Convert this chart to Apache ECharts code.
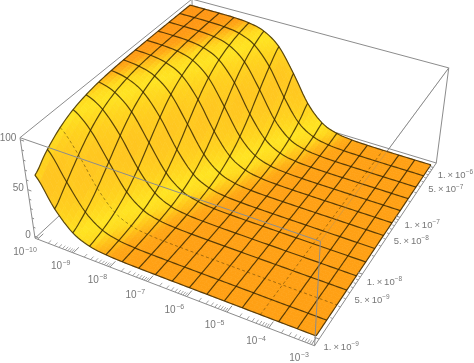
<!DOCTYPE html>
<html><head><meta charset="utf-8">
<style>html,body{margin:0;padding:0;background:#fff}#c{width:474px;height:363px}</style>
<script src="https://cdn.jsdelivr.net/npm/echarts@6/dist/echarts.min.js"></script>
</head><body><div id="c"></div>
<script>
// surface height (0-100), rows run front (1e-9) to back (1e-6); columns run 1e-10 to 1e-3
const row00=[60.5,31.4,12,3.9,1.2,.36,.11,.03,0,0,0,0,0,0,0,0,0];
const row01=[72,43.5,18.7,6.4,2,.6,.18,.05,0,0,0,0,0,0,0,0,0];
const row02=[81.2,56.4,27.8,10.3,3.3,1,.3,.09,0,0,0,0,0,0,0,0,0];
const row03=[87.9,68.4,39.3,16.2,5.5,1.7,.5,.15,.05,0,0,0,0,0,0,0,0];
const row04=[92.4,78.4,52.1,24.5,8.8,2.8,.86,.26,.08,0,0,0,0,0,0,0,0];
const row05=[95.3,85.9,64.6,35.2,14,4.6,1.4,.43,.13,.04,0,0,0,0,0,0,0];
const row06=[97.2,91.1,75.4,47.8,21.4,7.5,2.4,.72,.22,.07,0,0,0,0,0,0,0];
const row07=[98.3,94.5,83.7,60.5,31.4,12,3.9,1.2,.36,.11,.03,0,0,0,0,0,0];
const row08=[99,96.7,89.6,72,43.5,18.7,6.4,2,.6,.18,.05,0,0,0,0,0,0];
const row09=[99.4,98,93.5,81.2,56.4,27.8,10.3,3.3,1,.3,.09,0,0,0,0,0,0];
const row10=[99.6,98.8,96,87.9,68.4,39.3,16.2,5.5,1.7,.5,.15,.05,0,0,0,0,0];
const row11=[99.8,99.3,97.6,92.4,78.4,52.1,24.5,8.8,2.8,.86,.26,.08,0,0,0,0,0];
const row12=[99.9,99.6,98.6,95.3,85.9,64.6,35.2,14,4.6,1.4,.43,.13,.04,0,0,0,0];
const row13=[99.9,99.7,99.1,97.2,91.1,75.4,47.8,21.4,7.5,2.4,.72,.22,.07,0,0,0,0];
const row14=[100,99.8,99.5,98.3,94.5,83.7,60.5,31.4,12,3.9,1.2,.36,.11,.03,0,0,0];
const row15=[100,99.9,99.7,99,96.7,89.6,72,43.5,18.7,6.4,2,.6,.18,.05,0,0,0];
const row16=[100,99.9,99.8,99.4,98,93.5,81.2,56.4,27.8,10.3,3.3,1,.3,.09,0,0,0];
const zTable=[row00,row01,row02,row03,row04,row05,row06,row07,row08,row09,row10,row11,row12,row13,row14,row15,row16];

const xExponents=[-10,-9,-8,-7,-6,-5,-4,-3];
const yTickValues=[[1,-9],[5,-9],[1,-8],[5,-8],[1,-7],[5,-7],[1,-6]];
const zTicks=[0,50,100];

// camera: box corners as seen in the picture, [U,V,W, px,py]
const cam=[[0,0,0,35,238],[1,0,0,315,346],[1,1,0,436,163],[0,0,1,20,138],[1,0,1,320,241],[1,1,1,449,68],[0,1,1,192,-1]];
const padU=.01,padV=.03,padW=.02,NX=16,NY=16;
const meshCellsX=16,meshCellsY=13,faintX=13,faintY=2;

function solve(A,b){const n=b.length;for(let i=0;i<n;i++){let p=i;for(let r=i+1;r<n;r++)if(Math.abs(A[r][i])>Math.abs(A[p][i]))p=r;
 [A[i],A[p]]=[A[p],A[i]];[b[i],b[p]]=[b[p],b[i]];
 for(let r=i+1;r<n;r++){const f=A[r][i]/A[i][i];for(let c=i;c<n;c++)A[r][c]-=f*A[i][c];b[r]-=f*b[i];}}
 const x=Array(n).fill(0);for(let i=n-1;i>=0;i--){let s=b[i];for(let c=i+1;c<n;c++)s-=A[i][c]*x[c];x[i]=s/A[i][i];}return x;}
const M=(function(){const R=[],B=[];cam.forEach(([u,v,w,x,y])=>{
 R.push([u,v,w,1,0,0,0,0,-x*u,-x*v,-x*w]);B.push(x);R.push([0,0,0,0,u,v,w,1,-y*u,-y*v,-y*w]);B.push(y);});
 const N=Array.from({length:11},(_,a)=>Array.from({length:11},(_,b)=>R.reduce((s,r)=>s+r[a]*r[b],0)));
 const T=Array.from({length:11},(_,a)=>R.reduce((s,r,k)=>s+r[a]*B[k],0));return solve(N,T);})();
function proj(U,V,W){const d=M[8]*U+M[9]*V+M[10]*W+1;return [(M[0]*U+M[1]*V+M[2]*W+M[3])/d,(M[4]*U+M[5]*V+M[6]*W+M[7])/d];}

function cr(a,b,c,d,t){return .5*(2*b+(c-a)*t+(2*a-5*b+4*c-d)*t*t+(3*b-a-3*c+d)*t*t*t);}
function at(j,i){return zTable[Math.max(0,Math.min(NY,j))][Math.max(0,Math.min(NX,i))];}
function height(fi,fj){fi=Math.max(0,Math.min(NX,fi));fj=Math.max(0,Math.min(NY,fj));
 const i=Math.min(NX-1,Math.floor(fi)),j=Math.min(NY-1,Math.floor(fj)),s=fi-i,t=fj-j,q=[];
 for(let k=-1;k<3;k++)q.push(cr(at(j+k,i-1),at(j+k,i),at(j+k,i+1),at(j+k,i+2),s));
 return cr(q[0],q[1],q[2],q[3],t);}
function surf(fi,fj){const z=Math.max(0,Math.min(100,height(fi,fj)));
 return proj(padU+(1-2*padU)*fi/NX,padV+(1-2*padV)*fj/NY,padW+(1-2*padW)*z/100);}

const shade=[[0,[255,160,20]],[.18,[255,166,20]],[.5,[255,192,25]],[1,[255,218,30]],[2,[255,228,34]],[3.6,[255,212,30]],[5.4,[255,198,32]]];
function color(fi,fj){const e=.12,zu=(height(fi+e,fj)-height(fi-e,fj))/(2*e)*NX/100,zv=(height(fi,fj+e)-height(fi,fj-e))/(2*e)*NY/100,m=Math.hypot(zu,zv);
 let k=0;while(k<shade.length-2&&m>shade[k+1][0])k++;const a=shade[k],b=shade[k+1],t=Math.min(1,(m-a[0])/(b[0]-a[0]));
 const high=Math.max(0,height(fi,fj)-90)/10*Math.max(0,1-m/.6);
 const rgb=a[1].map((v,c)=>Math.round(v+(b[1][c]-v)*t));rgb[1]-=Math.round(10*high);
 return 'rgb('+rgb.join(',')+')';}

const cells=[];for(let j=NY-1;j>=0;j--)for(let i=0;i<NX;i++)cells.push([i,j]);
const SUB=4;
function renderCell(p,api){const i=api.value(0),j=api.value(1),ch=[];
 for(let b=SUB-1;b>=0;b--)for(let a=0;a<SUB;a++){
  const fi=i+a/SUB,fj=j+b/SUB,d=1/SUB,col=color(fi+d/2,fj+d/2);
  const pts=[[fi,fj],[fi+d,fj],[fi+d,fj+d],[fi,fj+d]].map(q=>api.coord(surf(q[0],q[1])));
  ch.push({type:'polygon',shape:{points:pts},style:{fill:col,stroke:col,lineWidth:.7}});}
 return {type:'group',children:ch};}

const meshLines=[];
for(let k=0;k<=meshCellsX;k++)meshLines.push([0,k]);
for(let k=0;k<=meshCellsY;k++)meshLines.push([1,k]);
function renderMesh(p,api){const ax=api.value(0),k=api.value(1),pts=[];
 const faint=(ax===0&&k===faintX)||(ax===1&&k===faintY);
 for(let t=0;t<=16*6;t++){const f=t/6;pts.push(api.coord(ax===0?surf(k*NX/meshCellsX,f):surf(f,k*NY/meshCellsY)));}
 return {type:'polyline',shape:{points:pts},style:faint
  ?{fill:'none',stroke:'rgba(50,35,0,.45)',lineWidth:1,lineDash:[3,2.5]}
  :{fill:'none',stroke:'rgba(50,35,0,.8)',lineWidth:1.2}};}

const CORN={A:[0,0,0],B:[1,0,0],C:[1,1,0],D:[0,1,0],E:[0,0,1],F:[1,0,1],G:[1,1,1],H:[0,1,1]};
const backEdges=['AD','DH','EH','HG','GC','DC','FG'],frontEdges=['EF','FB','AE','AB','BC'];
function edgeEl(api,s,op){const a=CORN[s[0]],b=CORN[s[1]];
 return {type:'line',shape:(function(){const P=api.coord(proj(...a)),Q=api.coord(proj(...b));return{x1:P[0],y1:P[1],x2:Q[0],y2:Q[1]};})(),style:{stroke:'#8c8c8c',lineWidth:1,opacity:op}};}
function tickEl(api,a,b,w){const P=api.coord(proj(...a)),Q=api.coord(proj(...b));
 return {type:'line',shape:{x1:P[0],y1:P[1],x2:Q[0],y2:Q[1]},style:{stroke:'#8c8c8c',lineWidth:w}};}
const GR='#777777';
const rich={b:{fontFamily:'Liberation Sans',fontSize:10,fill:GR},s:{fontFamily:'Liberation Sans',fontSize:7,fill:GR,padding:[0,0,6,0.5]},
 c:{fontFamily:'Liberation Sans',fontSize:9.5,fill:GR},t:{fontFamily:'Liberation Sans',fontSize:6.5,fill:GR,padding:[0,0,6,0]}};
function label(api,px,py,dx,dy,text,align){const c=api.coord([px+dx,py+dy]);
 return {type:'text',style:{x:c[0],y:c[1],text:text,rich:rich,align:align||'center',verticalAlign:'middle'}};}

function renderAxes(p,api){const ch=[];
 for(let e=-10;e<-3;e++)for(let m=1;m<10;m++){const f=(e+Math.log10(m)+10)/7,U=padU+(1-2*padU)*f;
  ch.push(tickEl(api,[U,0,0],[U,m===1?.03:.016,0],m===1?1:.8));}
 ch.push(tickEl(api,[1-padU,0,0],[1-padU,.03,0],1));
 for(let e=-9;e<-6;e++)for(let m=1;m<10;m++){const f=(e+Math.log10(m)+9)/3,V=padV+(1-2*padV)*f;
  ch.push(tickEl(api,[1,V,0],[m===1?.985:.992,V,0],m===1?1:.8));}
 ch.push(tickEl(api,[1,1-padV,0],[.985,1-padV,0],1));
 for(let z=0;z<=100;z+=10){const W=padW+(1-2*padW)*z/100;ch.push(tickEl(api,[0,0,W],[z%50?.008:.014,0,W],1));}
 xExponents.forEach(e=>{const U=padU+(1-2*padU)*(e+10)/7,q=proj(U,0,0);
  ch.push(label(api,q[0],q[1],-12.5,13.5,'{b|10}{s|−'+(-e)+'}'));});
 yTickValues.forEach(v=>{const V=padV+(1-2*padV)*(Math.log10(v[0])+v[1]+9)/3,q=proj(1,V,0);
  ch.push(label(api,q[0],q[1],4.5,8,'{c|'+v[0]+'.\u2009×\u200910}{t|−'+(-v[1])+'}','left'));});
 zTicks.forEach(z=>{const W=padW+(1-2*padW)*z/100,q=proj(0,0,W);
  ch.push(label(api,q[0],q[1],-4,-1.5,'{b|'+z+'}','right'));});
 return {type:'group',children:ch};}

const chart=echarts.init(document.getElementById('c'),null,{renderer:'canvas'});
chart.setOption({animation:false,backgroundColor:'#fff',
 grid:{left:0,top:0,width:474,height:363},
 xAxis:{type:'value',min:0,max:474,show:false},
 yAxis:{type:'value',min:0,max:363,inverse:true,show:false},
 series:[
  {type:'custom',silent:true,clip:false,z:1,data:backEdges.map(s=>[s]),renderItem:(p,api)=>edgeEl(api,backEdges[p.dataIndex],1)},
  {type:'custom',silent:true,clip:false,z:2,data:cells,renderItem:renderCell},
  {type:'custom',silent:true,clip:false,z:3,data:meshLines,renderItem:renderMesh},
  {type:'custom',silent:true,clip:false,z:4,data:frontEdges.map(s=>[s]),renderItem:(p,api)=>edgeEl(api,frontEdges[p.dataIndex],1)},
  {type:'custom',silent:true,clip:false,z:4,data:[['FG']],renderItem:(p,api)=>edgeEl(api,'FG',.3)},
  {type:'custom',silent:true,clip:false,z:5,data:[[0]],renderItem:renderAxes}
 ]});
</script></body></html>
